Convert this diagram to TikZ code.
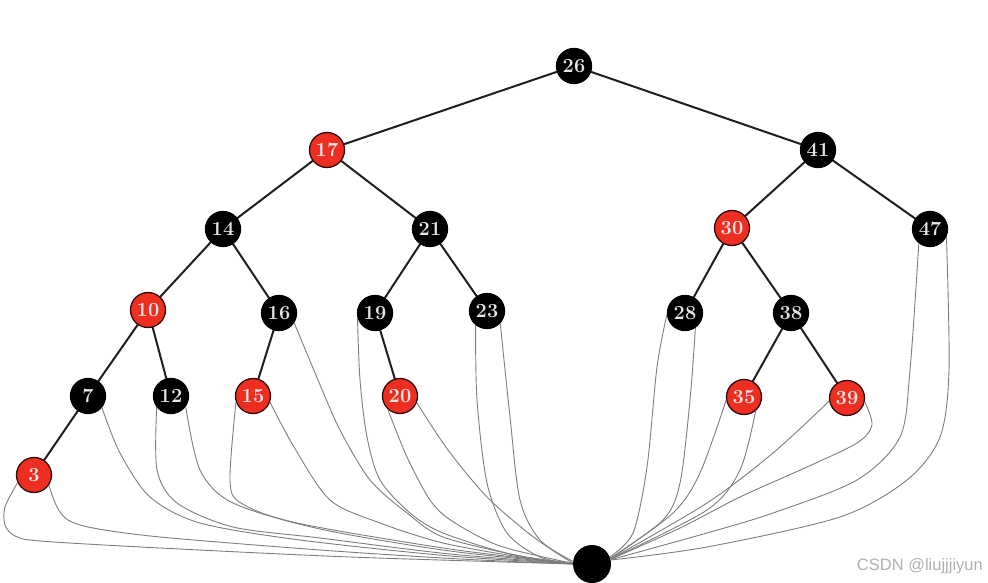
\documentclass[tikz,border=0pt]{standalone}
\usepackage{fontspec}
\newfontfamily\wmfont{Liberation Sans}
\definecolor{rbred}{RGB}{238,46,32}
\definecolor{rbdark}{RGB}{50,12,10}
\definecolor{nilgray}{RGB}{125,125,125}
\definecolor{wmgray}{RGB}{175,175,175}
\tikzset{
  rbnode/.style={circle, minimum size=35pt, inner sep=0pt, line width=1.3pt,
    font=\fontsize{20}{20}\selectfont\bfseries, text=white!90!black},
  blk/.style={rbnode, fill=black, draw=black},
  rd/.style={rbnode, fill=rbred, draw=rbdark},
  edge/.style={line width=2pt, draw=black!88},
  nilline/.style={line width=0.9pt, draw=nilgray},
}
\begin{document}
\begin{tikzpicture}[x=1pt,y=1pt]
\useasboundingbox (0,0) rectangle (988,-583);
\coordinate (c26) at (574,-66);
\coordinate (c17) at (327,-150);
\coordinate (c41) at (818,-150);
\coordinate (c14) at (223,-229);
\coordinate (c21) at (430,-229);
\coordinate (c30) at (732,-228);
\coordinate (c47) at (930,-229);
\coordinate (c10) at (148,-310);
\coordinate (c16) at (279,-313);
\coordinate (c19) at (375,-313);
\coordinate (c23) at (487,-311);
\coordinate (c28) at (685,-313);
\coordinate (c38) at (791,-313);
\coordinate (c7) at (88,-396);
\coordinate (c12) at (171,-396);
\coordinate (c15) at (253,-396);
\coordinate (c20) at (400,-396);
\coordinate (c35) at (744,-397);
\coordinate (c39) at (847,-398);
\coordinate (c3) at (34,-475);
\coordinate (cnil) at (592,-564);

% tree edges (behind nodes)
\draw[edge] (c26) -- (c17);
\draw[edge] (c26) -- (c41);
\draw[edge] (c17) -- (c14);
\draw[edge] (c17) -- (c21);
\draw[edge] (c41) -- (c30);
\draw[edge] (c41) -- (c47);
\draw[edge] (c14) -- (c10);
\draw[edge] (c14) -- (c16);
\draw[edge] (c21) -- (c19);
\draw[edge] (c21) -- (c23);
\draw[edge] (c30) -- (c28);
\draw[edge] (c30) -- (c38);
\draw[edge] (c10) -- (c7);
\draw[edge] (c10) -- (c12);
\draw[edge] (c16) -- (c15);
\draw[edge] (c19) -- (c20);
\draw[edge] (c38) -- (c35);
\draw[edge] (c38) -- (c39);
\draw[edge] (c7) -- (c3);

% nodes
\node[blk] (n26) at (c26) {26};
\node[rd]  (n17) at (c17) {17};
\node[blk] (n41) at (c41) {41};
\node[blk] (n14) at (c14) {14};
\node[blk] (n21) at (c21) {21};
\node[rd]  (n30) at (c30) {30};
\node[blk] (n47) at (c47) {47};
\node[rd]  (n10) at (c10) {10};
\node[blk] (n16) at (c16) {16};
\node[blk] (n19) at (c19) {19};
\node[blk] (n23) at (c23) {23};
\node[blk] (n28) at (c28) {28};
\node[blk] (n38) at (c38) {38};
\node[blk] (n7)  at (c7)  {7};
\node[blk] (n12) at (c12) {12};
\node[rd]  (n15) at (c15) {15};
\node[rd]  (n20) at (c20) {20};
\node[rd]  (n35) at (c35) {35};
\node[rd]  (n39) at (c39) {39};
\node[rd]  (n3)  at (c3)  {3};
\node[circle, fill=black, minimum size=38pt, inner sep=0pt] (nil) at (cnil) {};

% nil connectors, left side
\draw[nilline] plot[smooth] coordinates {(n3.205) (5,-507) (5,-525) (15,-536) (40,-541) (160,-548) (350,-557) (nil.180)};
\draw[nilline] plot[smooth] coordinates {(n3.-35) (57,-507) (68,-520) (93,-528) (160,-537) (320,-550) (460,-559) (nil.180)};
\draw[nilline] plot[smooth] coordinates {(n7.-40) (120,-453) (150,-497) (200,-523) (300,-540) (450,-556) (nil.179)};
\draw[nilline] plot[smooth] coordinates {(n12.218) (157,-470) (177,-503) (233,-527) (320,-538) (450,-554) (nil.179)};
\draw[nilline] plot[smooth] coordinates {(n12.-36) (200,-470) (233,-503) (320,-529) (450,-551) (nil.179)};
\draw[nilline] plot[smooth] coordinates {(n15.200) (230,-480) (241,-503) (297,-523) (450,-549) (nil.179)};
\draw[nilline] plot[smooth] coordinates {(n15.-20) (294,-447) (330,-500) (380,-523) (443,-543) (520,-557) (nil.179)};
\draw[nilline] plot[smooth] coordinates {(n16.-33) (318,-380) (340,-430) (370,-480) (407,-513) (443,-537) (520,-556) (nil.179)};
\draw[nilline] plot[smooth] coordinates {(n19.195) (360,-380) (367,-437) (380,-480) (410,-513) (443,-533) (510,-554) (nil.178)};
\draw[nilline] plot[smooth] coordinates {(n20.228) (407,-457) (430,-500) (452,-521) (500,-546) (nil.178)};
\draw[nilline] plot[smooth] coordinates {(n20.-22) (448,-450) (487,-497) (527,-532) (555,-552) (nil.177)};
\draw[nilline] plot[smooth] coordinates {(n23.231) (477,-400) (487,-483) (507,-533) (540,-557) (nil.178)};
\draw[nilline] plot[smooth] coordinates {(n23.-43) (510,-417) (520,-500) (540,-540) (nil.172)};
% nil connectors, right side
\draw[nilline] plot[smooth] coordinates {(n28.185) (657,-367) (647,-467) (633,-533) (nil.22)};
\draw[nilline] plot[smooth] coordinates {(n28.-55) (690,-400) (680,-483) (663,-520) (nil.18)};
\draw[nilline] plot[smooth] coordinates {(n35.190) (700,-473) (673,-513) (nil.16)};
\draw[nilline] plot[smooth] coordinates {(n35.-50) (740,-470) (707,-510) (nil.15)};
\draw[nilline] plot[smooth] coordinates {(n39.190) (773,-453) (707,-503) (nil.15)};
\draw[nilline] plot[smooth] coordinates {(n39.-12) (872,-425) (857,-443) (807,-467) (740,-497) (680,-528) (nil.14)};
\draw[nilline] plot[smooth] coordinates {(n47.232) (910,-370) (900,-437) (857,-480) (773,-513) (707,-533) (nil.13)};
\draw[nilline] plot[smooth] coordinates {(n47.-25) (949,-370) (940,-437) (907,-480) (840,-517) (707,-547) (nil.12)};

% watermark
\node[anchor=east, text=wmgray, font=\wmfont\fontsize{16.5}{16.5}\selectfont, inner sep=0pt] (wm) at (983,-566) {CSDN @liujjjiyun};
\end{tikzpicture}
\end{document}
